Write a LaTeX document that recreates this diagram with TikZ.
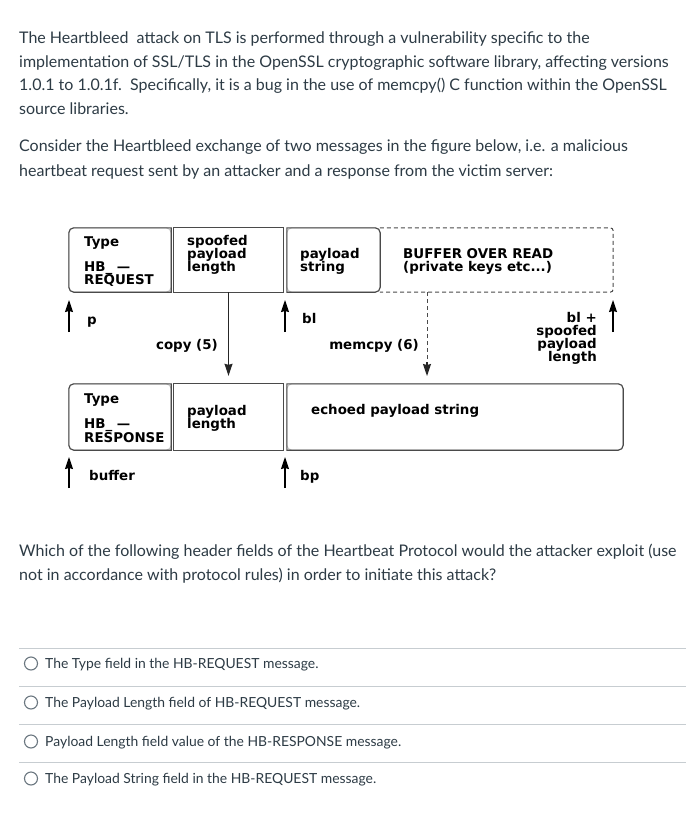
\documentclass[tikz,border=0pt]{standalone}
\usepackage{fontspec}
\setmainfont{Lato}
\newfontfamily\dvfam{DejaVu Sans}
\usetikzlibrary{arrows.meta}
\definecolor{txt}{HTML}{2D3B45}
\definecolor{sep}{HTML}{C7CDD1}
\definecolor{radio}{HTML}{6B7780}
\definecolor{boxc}{HTML}{4A4A4A}
\tikzset{
  para/.style={anchor=base west, inner sep=0pt, text=txt, font=\fontsize{16}{19}\selectfont},
  opt/.style={anchor=base west, inner sep=0pt, text=txt, font=\fontsize{13.9}{17}\selectfont},
  lab/.style={anchor=base west, inner sep=0pt, text=black, font=\dvfam\bfseries\fontsize{13.4}{13}\selectfont},
  labr/.style={lab, anchor=base east},
  boxline/.style={draw=boxc, line width=1.1pt},
  shadowline/.style={draw=black!25, line width=1.1pt},
  area/.style={draw=none, inner sep=0pt},
  uparr/.style={draw=black, line width=1.1pt, -{Stealth[length=12pt,width=8pt,inset=1pt]}},
  dnarr/.style={draw=black!85, line width=1.1pt, -{Stealth[length=12pt,width=8pt,inset=1pt]}},
  dashln/.style={draw=boxc, line width=1pt, dash pattern=on 4pt off 3pt},
  seplin/.style={draw=sep, line width=0.8pt},
  radiob/.style={circle, draw=radio, line width=1.1pt, minimum size=13pt, inner sep=0pt},
}
\begin{document}
\begin{tikzpicture}[x=1pt,y=-1pt]
\useasboundingbox (0,0) rectangle (692,813);
\fill[white] (0,0) rectangle (692,813);

% ---------- intro text ----------
\node[para] (t1) at (19,44) {The Heartbleed\ \ attack on TLS is performed through a vulnerability specific to the};
\node[para] (t2) at (19,67.5) {implementation of SSL/TLS in the OpenSSL cryptographic software library, affecting versions};
\node[para] (t3) at (19,91) {1.0.1 to 1.0.1f.\ \ Specifically, it is a bug in the use of memcpy() C function within the OpenSSL};
\node[para] (t4) at (19,115) {source libraries.};
\node[para] (t5) at (19,152) {Consider the Heartbleed exchange of two messages in the figure below, i.e. a malicious};
\node[para] (t6) at (19,176) {heartbeat request sent by an attacker and a response from the victim server:};

% ---------- box areas ----------
\node[area, minimum width=102pt, minimum height=64pt] (rqtype) at (120,260) {};
\node[area, minimum width=109pt, minimum height=64pt] (rqlen) at (228.5,260) {};
\node[area, minimum width=93pt, minimum height=64pt] (rqstr) at (333.5,260) {};
\node[area, minimum width=233pt, minimum height=64pt] (ovr) at (496.5,260) {};
\node[area, minimum width=102pt, minimum height=66pt] (rstype) at (120,417) {};
\node[area, minimum width=109pt, minimum height=66pt] (rslen) at (228.5,417) {};
\node[area, minimum width=336pt, minimum height=66pt] (rsstr) at (455,417) {};

% shadows
\draw[shadowline, shift={(1.2,1.2)}] (rqlen.north west) rectangle (rqlen.south east);
\draw[shadowline, shift={(1.2,1.2)}] (rslen.north west) rectangle (rslen.south east);
\draw[shadowline, shift={(1.2,1.2)}, rounded corners=5pt] (rqtype.north east) -- (rqtype.north west) -- (rqtype.south west) -- (rqtype.south east) -- cycle;
\draw[shadowline, shift={(1.2,1.2)}, rounded corners=5pt] (rstype.north east) -- (rstype.north west) -- (rstype.south west) -- (rstype.south east) -- cycle;
\draw[shadowline, shift={(1.2,1.2)}, rounded corners=5pt] (rqstr.north west) -- (rqstr.north east) -- (rqstr.south east) -- (rqstr.south west) -- cycle;
\draw[shadowline, shift={(1.2,1.2)}, rounded corners=5pt] (rsstr.north west) -- (rsstr.north east) -- (rsstr.south east) -- (rsstr.south west) -- cycle;

% outlines
\draw[boxline] (rqtype.north east) [rounded corners=5pt] -- (rqtype.north west) -- (rqtype.south west) [sharp corners] -- (rqtype.south east) -- cycle;
\draw[boxline] (rqlen.north west) rectangle (rqlen.south east);
\draw[boxline] (rqstr.north west) [rounded corners=5pt] -- (rqstr.north east) -- (rqstr.south east) [sharp corners] -- (rqstr.south west) -- cycle;
\draw[dashln] (ovr.north west) [rounded corners=3pt] -- (ovr.north east) -- (ovr.south east) -- (ovr.south west);
\draw[boxline] (rstype.north east) [rounded corners=5pt] -- (rstype.north west) -- (rstype.south west) [sharp corners] -- (rstype.south east) -- cycle;
\draw[boxline] (rslen.north west) rectangle (rslen.south east);
\draw[boxline] (rsstr.north west) [rounded corners=5pt] -- (rsstr.north east) -- (rsstr.south east) [sharp corners] -- (rsstr.south west) -- cycle;

% ---------- box texts ----------
\node[lab] (l1) at (84,246) {Type};
\node[lab] (l2) at (84,271) {HB\_ —};
\node[lab] (l3) at (84,284) {REQUEST};
\node[lab] (l4) at (187,245) {spoofed};
\node[lab] (l5) at (187,258) {payload};
\node[lab] (l6) at (187,271) {length};
\node[lab] (l7) at (300,258) {payload};
\node[lab] (l8) at (300,271) {string};
\node[lab] (l9) at (403,258) {BUFFER OVER READ};
\node[lab] (l10) at (403,271) {(private keys etc...)};

\node[lab] (m1) at (84,403) {Type};
\node[lab] (m2) at (84,428) {HB\_ —};
\node[lab] (m3) at (84,442) {RESPONSE};
\node[lab] (m4) at (187,415) {payload};
\node[lab] (m5) at (187,428) {length};
\node[lab] (m6) at (311,414) {echoed payload string};

% ---------- pointer labels ----------
\node[lab] (pp) at (87,324) {p};
\node[lab] (pbl) at (302,323) {bl};
\node[labr] (pcopy) at (218,349) {copy (5)};
\node[labr] (pmem) at (419,349) {memcpy (6)};
\node[labr] (pe1) at (597,322) {bl +};
\node[labr] (pe2) at (597,335) {spoofed};
\node[labr] (pe3) at (597,348) {payload};
\node[labr] (pe4) at (597,361) {length};
\node[lab] (pbuf) at (89,480) {buffer};
\node[lab] (pbp) at (300,480) {bp};

% ---------- arrows ----------
\coordinate (a1s) at (69,332);  \coordinate (a1e) at (69,300);
\coordinate (a2s) at (285,332); \coordinate (a2e) at (285,300);
\coordinate (a3s) at (613,332); \coordinate (a3e) at (613,300);
\coordinate (a4s) at (69,488);  \coordinate (a4e) at (69,457);
\coordinate (a5s) at (285,488); \coordinate (a5e) at (285,457);
\draw[uparr] (a1s) -- (a1e);
\draw[uparr] (a2s) -- (a2e);
\draw[uparr] (a3s) -- (a3e);
\draw[uparr] (a4s) -- (a4e);
\draw[uparr] (a5s) -- (a5e);
\draw[dnarr, shorten >=8pt] (rqlen.south) -- (rslen.north);
\coordinate (d1) at (427,292);
\coordinate (d2) at (427,362);
\coordinate (d3) at (427,384);
\draw[dashln] (d1) -- (d2);
\draw[dnarr, shorten >=8pt] (d2) -- (d3);

% ---------- question ----------
\node[para] (q1) at (19,556) {Which of the following header fields of the Heartbeat Protocol would the attacker exploit (use};
\node[para] (q2) at (19,580) {not in accordance with protocol rules) in order to initiate this attack?};

% ---------- options ----------
\coordinate (s1a) at (19,648); \coordinate (s1b) at (686,648);
\coordinate (s2a) at (19,686); \coordinate (s2b) at (686,686);
\coordinate (s3a) at (19,724); \coordinate (s3b) at (686,724);
\coordinate (s4a) at (19,762); \coordinate (s4b) at (686,762);
\draw[seplin] (s1a) -- (s1b);
\draw[seplin] (s2a) -- (s2b);
\draw[seplin] (s3a) -- (s3b);
\draw[seplin] (s4a) -- (s4b);
\node[radiob] (r1) at (31,663.5) {};
\node[radiob] (r2) at (31,702.5) {};
\node[radiob] (r3) at (31,741.5) {};
\node[radiob] (r4) at (31,778.5) {};
\node[opt] (o1) at (45,668) {The Type field in the HB-REQUEST message.};
\node[opt] (o2) at (45,707) {The Payload Length field of HB-REQUEST message.};
\node[opt] (o3) at (45,746) {Payload Length field value of the HB-RESPONSE message.};
\node[opt] (o4) at (45,783) {The Payload String field in the HB-REQUEST message.};
\end{tikzpicture}
\end{document}
